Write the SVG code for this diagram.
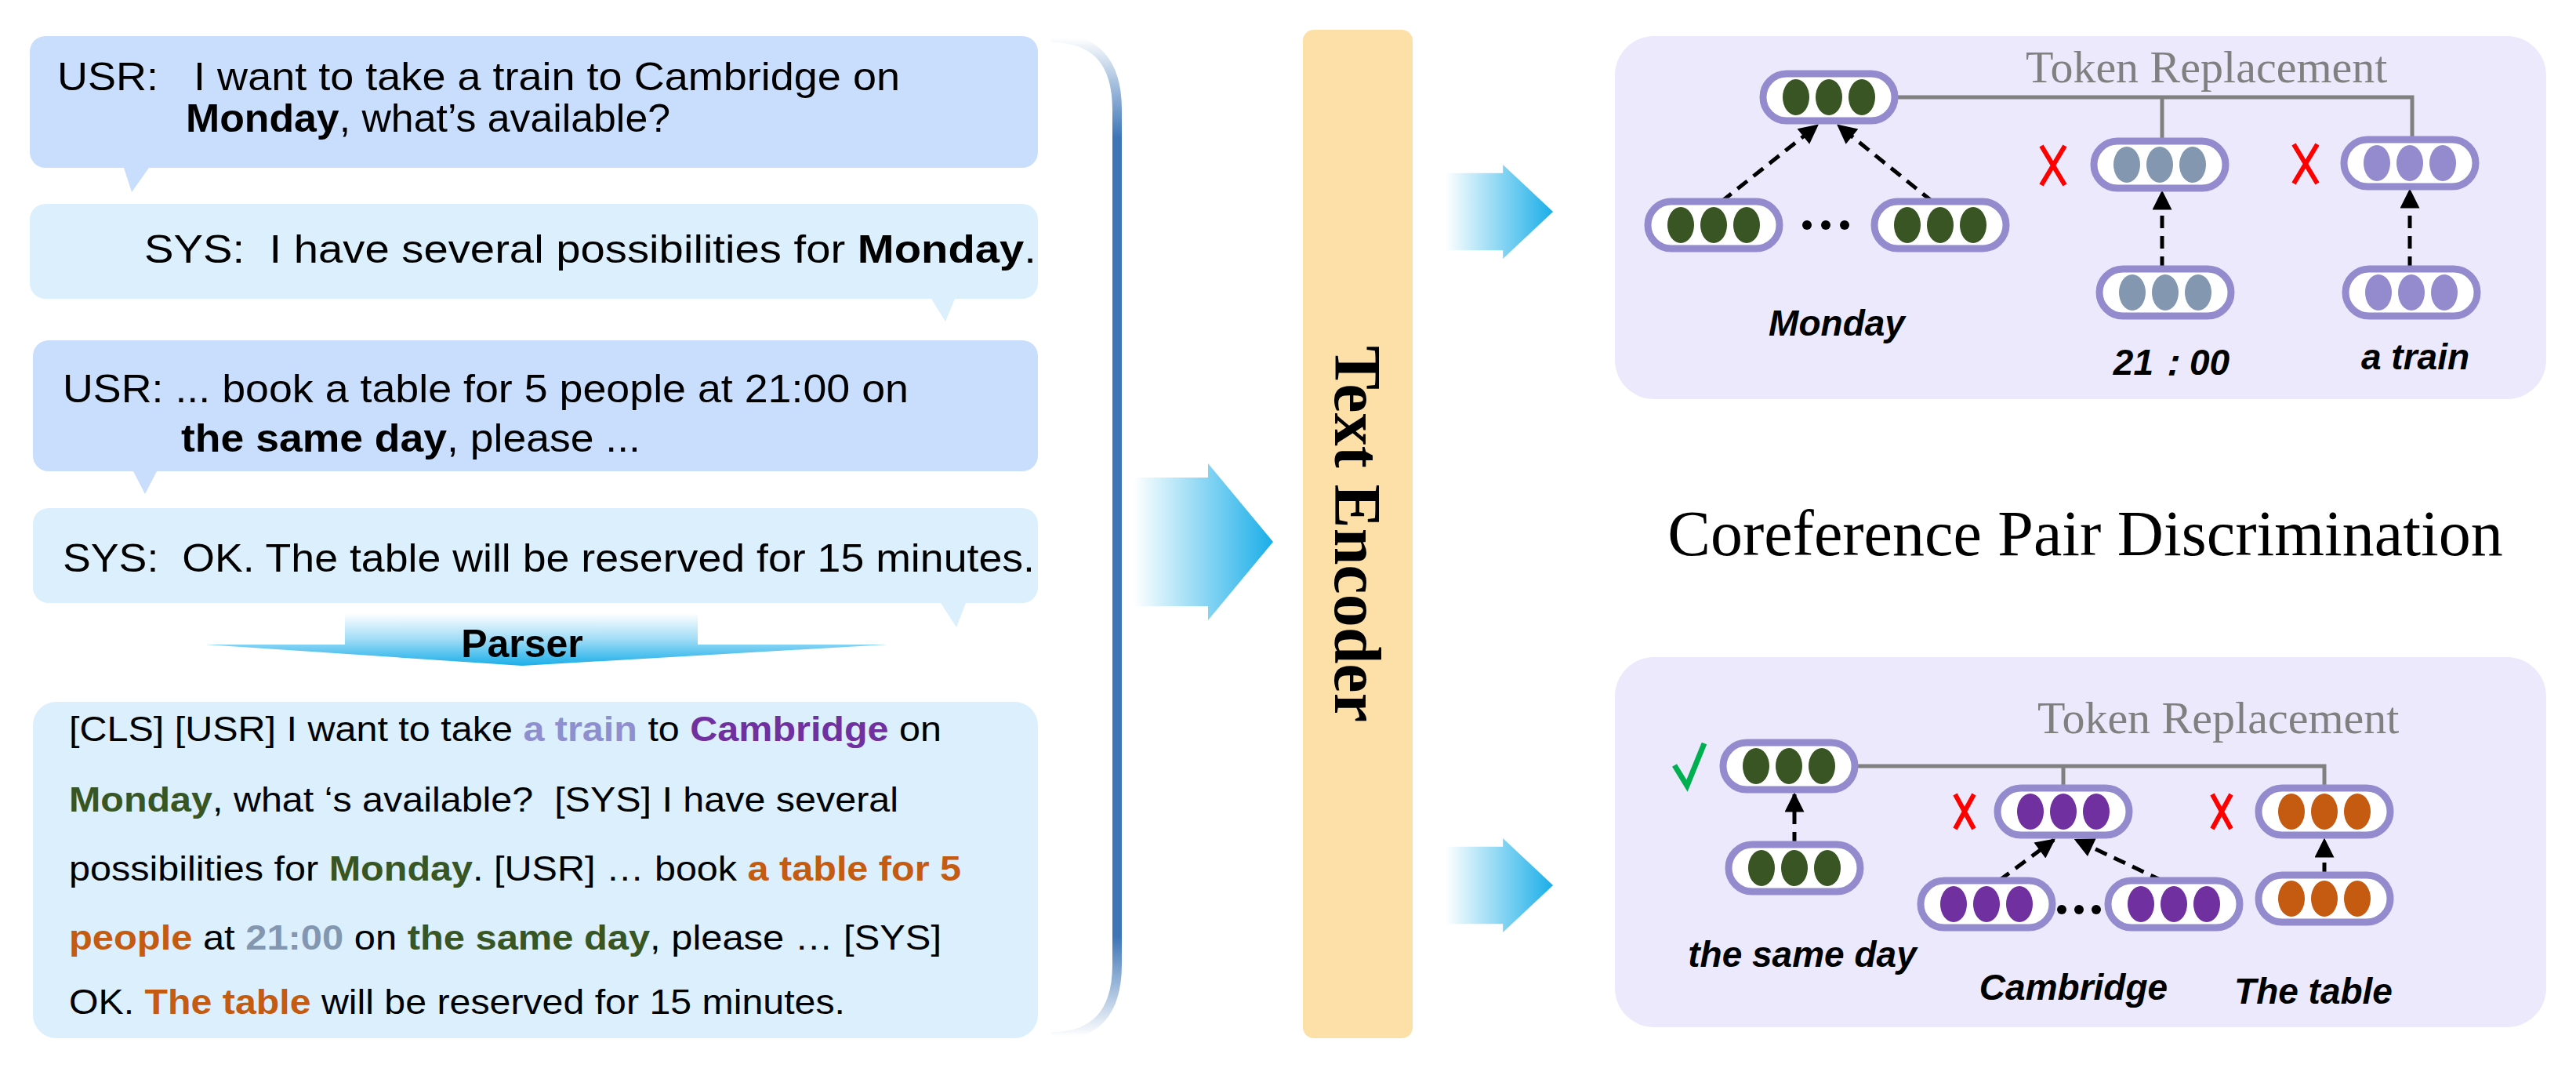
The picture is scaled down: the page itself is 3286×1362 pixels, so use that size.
<svg xmlns="http://www.w3.org/2000/svg" width="3286" height="1362" viewBox="0 0 3286 1362">
<style>
text{white-space:pre}
.t{font-family:"Liberation Sans",Arial,sans-serif;font-size:50px;fill:#000}
.p{font-family:"Liberation Sans",Arial,sans-serif;font-size:44px;fill:#000}
.b{font-weight:bold}
.lab{font-family:"Liberation Sans",Arial,sans-serif;font-size:46px;font-weight:bold;font-style:italic;text-anchor:middle}
.tr{font-family:"Liberation Serif","Times New Roman",serif;font-size:58px;fill:#808080}
.con{stroke:#808080;stroke-width:5;fill:none}
.dash{stroke:#000;stroke-width:5;stroke-dasharray:16 10;fill:none}
.x{stroke:#ff0000;stroke-width:6;fill:none}
</style>
<defs>
<linearGradient id="ga" x1="0" x2="1" y1="0" y2="0"><stop offset="0" stop-color="#ffffff"/><stop offset="1" stop-color="#1aaee8"/></linearGradient>
<linearGradient id="gp" x1="0" x2="0" y1="0" y2="1"><stop offset="0" stop-color="#ffffff"/><stop offset="0.5" stop-color="#9fdcf6"/><stop offset="1" stop-color="#1aaee8"/></linearGradient>
<linearGradient id="gb" x1="0" x2="0" y1="0" y2="1"><stop offset="0" stop-color="#ffffff"/><stop offset="0.1" stop-color="#3e75b7"/><stop offset="0.9" stop-color="#3e75b7"/><stop offset="1" stop-color="#ffffff"/></linearGradient>
<g id="pill"><rect x="-84" y="-30" width="168" height="60" rx="30" fill="#fff" stroke="#948bcf" stroke-width="9"/><ellipse cx="-42" cy="0" rx="17" ry="23"/><ellipse cx="0" cy="0" rx="17" ry="23"/><ellipse cx="42" cy="0" rx="17" ry="23"/></g>
<marker id="ah" viewBox="0 0 10 10" refX="9" refY="5" markerWidth="7" markerHeight="5" orient="auto" markerUnits="strokeWidth"><path d="M0,0 L10,5 L0,10 z" fill="#000"/></marker>
<path id="bigarrow" d="M0,18 L95,18 L95,0 L178,100 L95,200 L95,182 L0,182 z"/>
</defs>
<rect width="3286" height="1362" fill="#fff"/>

<g id="bubble-usr1"><path d="M60,46 H1304 a20,20 0 0 1 20,20 V194 a20,20 0 0 1 -20,20 H190 L168,245 L158,214 H58 a20,20 0 0 1 -20,-20 V66 a20,20 0 0 1 20,-20 z" fill="#c9ddfc"/>
<text class="t" x="73" y="115" textLength="1075" lengthAdjust="spacingAndGlyphs">USR:   I want to take a train to Cambridge on</text>
<text class="t" x="237" y="168" textLength="618" lengthAdjust="spacingAndGlyphs"><tspan class="b">Monday</tspan>, what’s available?</text></g>

<g id="bubble-sys1"><path d="M58,260 H1304 a20,20 0 0 1 20,20 V361 a20,20 0 0 1 -20,20 H1218 L1206,410 L1188,381 H58 a20,20 0 0 1 -20,-20 V280 a20,20 0 0 1 20,-20 z" fill="#dbeffc"/>
<text class="t" x="184" y="335" textLength="1138" lengthAdjust="spacingAndGlyphs">SYS:  I have several possibilities for <tspan class="b">Monday</tspan>.</text></g>

<g id="bubble-usr2"><path d="M62,434 H1304 a20,20 0 0 1 20,20 V581 a20,20 0 0 1 -20,20 H200 L185,630 L170,601 H62 a20,20 0 0 1 -20,-20 V454 a20,20 0 0 1 20,-20 z" fill="#c9ddfc"/>
<text class="t" x="80" y="513" textLength="1079" lengthAdjust="spacingAndGlyphs">USR: ... book a table for 5 people at 21:00 on</text>
<text class="t" x="231" y="576" textLength="586" lengthAdjust="spacingAndGlyphs"><tspan class="b">the same day</tspan>, please ...</text></g>

<g id="bubble-sys2"><path d="M62,648 H1304 a20,20 0 0 1 20,20 V749 a20,20 0 0 1 -20,20 H1232 L1220,800 L1200,769 H62 a20,20 0 0 1 -20,-20 V668 a20,20 0 0 1 20,-20 z" fill="#dbeffc"/>
<text class="t" x="80" y="729" textLength="1240" lengthAdjust="spacingAndGlyphs">SYS:  OK. The table will be reserved for 15 minutes.</text></g>

<g id="parser">
<path d="M440,782 H890 V822 H1132 L666,849 L262,822 H440 z" fill="url(#gp)"/>
<text class="t b" x="666" y="838" text-anchor="middle" font-size="46">Parser</text></g>

<g id="parsed-text"><rect x="42" y="895" width="1282" height="429" rx="30" fill="#dbeffc"/>
<text class="p" x="88" y="945" textLength="1113" lengthAdjust="spacingAndGlyphs">[CLS] [USR] I want to take <tspan class="b" fill="#8f8fd0">a train</tspan> to <tspan class="b" fill="#7030a0">Cambridge</tspan> on</text>
<text class="p" x="88" y="1035" textLength="1058" lengthAdjust="spacingAndGlyphs"><tspan class="b" fill="#375623">Monday</tspan>, what ‘s available?  [SYS] I have several</text>
<text class="p" x="88" y="1123" textLength="1138" lengthAdjust="spacingAndGlyphs">possibilities for <tspan class="b" fill="#375623">Monday</tspan>. [USR] … book <tspan class="b" fill="#c55a11">a table for 5</tspan></text>
<text class="p" x="88" y="1211" textLength="1113" lengthAdjust="spacingAndGlyphs"><tspan class="b" fill="#c55a11">people</tspan> at <tspan class="b" fill="#8497b0">21:00</tspan> on <tspan class="b" fill="#375623">the same day</tspan>, please … [SYS]</text>
<text class="p" x="88" y="1293" textLength="990" lengthAdjust="spacingAndGlyphs">OK. <tspan class="b" fill="#c55a11">The table</tspan> will be reserved for 15 minutes.</text></g>

<g id="bracket"><path d="M1341,48 Q1425,48 1425,140 V1230 Q1425,1322 1341,1322" fill="none" stroke="url(#gb)" stroke-width="12"/></g>

<g id="arrows-big">
<use href="#bigarrow" fill="url(#ga)" transform="translate(1446,591)"/>
<use href="#bigarrow" fill="url(#ga)" transform="translate(1844,210) scale(0.77,0.6)"/>
<use href="#bigarrow" fill="url(#ga)" transform="translate(1844,1069) scale(0.77,0.6)"/>
</g>

<g id="text-encoder"><rect x="1662" y="38" width="140" height="1286" rx="14" fill="#fde0a8"/>
<text x="1731" y="681" transform="rotate(90 1731 681)" text-anchor="middle" dominant-baseline="central" font-family="Liberation Serif,serif" font-weight="bold" font-size="84">Text Encoder</text></g>

<text id="title" x="2660" y="708" text-anchor="middle" font-family="Liberation Serif,serif" font-size="82">Coreference Pair Discrimination</text>

<g id="panel-top"><rect x="2060" y="46" width="1188" height="463" rx="50" fill="#ece9fc"/>
<text class="tr" x="2584" y="105">Token Replacement</text>
<g id="connectors-top">
<path class="con" d="M2417,124 H3077 V178 M2758,124 V180"/>
<path class="dash" d="M2196,257 L2318,160" marker-end="url(#ah)"/>
<path class="dash" d="M2465,257 L2345,160" marker-end="url(#ah)"/>
<path class="dash" d="M2758,343 V245" marker-end="url(#ah)"/>
<path class="dash" d="M3074,343 V243" marker-end="url(#ah)"/>
</g>
<g id="n-monday-top"><use href="#pill" fill="#3a5524" x="2333" y="124"/></g>
<g id="n-monday-l"><use href="#pill" fill="#3a5524" x="2186" y="287"/></g>
<g id="n-monday-r"><use href="#pill" fill="#3a5524" x="2475" y="287"/></g>
<g fill="#000"><circle cx="2305" cy="287" r="6"/><circle cx="2329" cy="287" r="6"/><circle cx="2353" cy="287" r="6"/></g>
<g id="n-2100-top"><use href="#pill" fill="#8497b0" x="2755" y="210"/><path class="x" d="M2604,186 L2634,236 M2634,186 L2604,236"/></g>
<g id="n-2100-bot"><use href="#pill" fill="#8497b0" x="2762" y="373"/></g>
<g id="n-train-top"><use href="#pill" fill="#948bcf" x="3074" y="208"/><path class="x" d="M2926,184 L2956,234 M2956,184 L2926,234"/></g>
<g id="n-train-bot"><use href="#pill" fill="#948bcf" x="3076" y="373"/></g>
<text class="lab" x="2343" y="428">Monday</text>
<text class="lab" x="2770" y="478">21：00</text>
<text class="lab" x="3081" y="471">a train</text>
</g>

<g id="panel-bottom"><rect x="2060" y="838" width="1188" height="472" rx="50" fill="#ece9fc"/>
<text class="tr" x="2599" y="935">Token Replacement</text>
<g id="connectors-bottom">
<path class="con" d="M2366,977 H2965 V1006 M2632,977 V1006"/>
<path class="dash" d="M2289,1077 V1013" marker-end="url(#ah)"/>
<path class="dash" d="M2550,1123 L2620,1071" marker-end="url(#ah)"/>
<path class="dash" d="M2758,1123 L2648,1071" marker-end="url(#ah)"/>
<path class="dash" d="M2965,1116 V1071" marker-end="url(#ah)"/>
</g>
<g id="n-sameday-top"><use href="#pill" fill="#3a5524" x="2282" y="977"/><path d="M2136,976 L2152,1002 L2174,948" fill="none" stroke="#00b050" stroke-width="7"/></g>
<g id="n-sameday-bot"><use href="#pill" fill="#3a5524" x="2289" y="1107"/></g>
<g id="n-cam-top"><use href="#pill" fill="#7030a0" x="2632" y="1035"/><path class="x" d="M2494,1013 L2518,1057 M2518,1013 L2494,1057"/></g>
<g id="n-cam-l"><use href="#pill" fill="#7030a0" x="2534" y="1153"/></g>
<g id="n-cam-r"><use href="#pill" fill="#7030a0" x="2773" y="1153"/></g>
<g fill="#000"><circle cx="2630" cy="1160" r="6"/><circle cx="2652" cy="1160" r="6"/><circle cx="2674" cy="1160" r="6"/></g>
<g id="n-table-top"><use href="#pill" fill="#c55a11" x="2965" y="1035"/><path class="x" d="M2822,1013 L2846,1057 M2846,1013 L2822,1057"/></g>
<g id="n-table-bot"><use href="#pill" fill="#c55a11" x="2965" y="1146"/></g>
<text class="lab" x="2299" y="1233">the same day</text>
<text class="lab" x="2645" y="1275">Cambridge</text>
<text class="lab" x="2951" y="1280">The table</text>
</g>
</svg>
